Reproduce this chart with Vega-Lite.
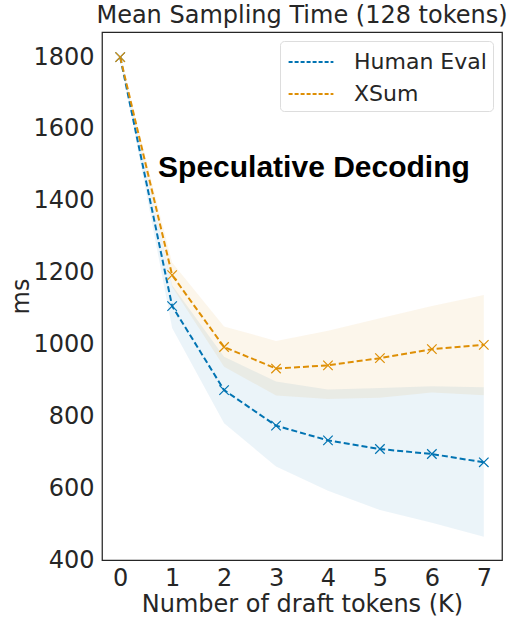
{
  "$schema": "https://vega.github.io/schema/vega-lite/v6.json",
  "autosize": "none",
  "width": 400,
  "height": 528,
  "padding": {"left": 102, "top": 32, "right": 24, "bottom": 64},
  "background": "white",
  "title": {
    "text": "Mean Sampling Time (128 tokens)",
    "font": "DejaVu Sans",
    "fontSize": 24,
    "fontWeight": "normal",
    "color": "#262626",
    "offset": 4
  },
  "config": {
    "view": {"stroke": "#262626", "strokeWidth": 1.25},
    "axis": {
      "grid": false,
      "ticks": false,
      "domain": false,
      "labelFont": "DejaVu Sans",
      "labelFontSize": 24,
      "labelColor": "#262626",
      "titleFont": "DejaVu Sans",
      "titleFontSize": 24,
      "titleFontWeight": "normal",
      "titleColor": "#262626"
    }
  },
  "datasets": {
    "series": [
      {"k": 0, "series": "Human Eval", "mean": 1800, "lo": 1800, "hi": 1800},
      {"k": 1, "series": "Human Eval", "mean": 1107, "lo": 1046, "hi": 1165},
      {"k": 2, "series": "Human Eval", "mean": 873, "lo": 781, "hi": 966},
      {"k": 3, "series": "Human Eval", "mean": 774, "lo": 660, "hi": 897},
      {"k": 4, "series": "Human Eval", "mean": 733, "lo": 593, "hi": 875},
      {"k": 5, "series": "Human Eval", "mean": 709, "lo": 539, "hi": 879},
      {"k": 6, "series": "Human Eval", "mean": 695, "lo": 504, "hi": 884},
      {"k": 7, "series": "Human Eval", "mean": 672, "lo": 465, "hi": 881},
      {"k": 0, "series": "XSum", "mean": 1800, "lo": 1800, "hi": 1800},
      {"k": 1, "series": "XSum", "mean": 1193, "lo": 1160, "hi": 1228},
      {"k": 2, "series": "XSum", "mean": 993, "lo": 938, "hi": 1050},
      {"k": 3, "series": "XSum", "mean": 933, "lo": 858, "hi": 1010},
      {"k": 4, "series": "XSum", "mean": 942, "lo": 848, "hi": 1038},
      {"k": 5, "series": "XSum", "mean": 962, "lo": 852, "hi": 1073},
      {"k": 6, "series": "XSum", "mean": 987, "lo": 866, "hi": 1107},
      {"k": 7, "series": "XSum", "mean": 999, "lo": 859, "hi": 1138}
    ],
    "note": [{"k": 3.73, "y": 1491, "label": "Speculative Decoding"}]
  },
  "layer": [
    {
      "data": {"name": "series"},
      "mark": {"type": "area", "opacity": 0.08},
      "encoding": {
        "x": {"field": "k", "type": "quantitative"},
        "y": {"field": "lo", "type": "quantitative"},
        "y2": {"field": "hi"},
        "color": {"field": "series", "type": "nominal"}
      }
    },
    {
      "data": {"name": "series"},
      "mark": {"type": "line", "strokeDash": [6, 3], "strokeWidth": 2},
      "encoding": {
        "x": {
          "field": "k",
          "type": "quantitative",
          "scale": {"domain": [-0.35, 7.35], "nice": false, "zero": false},
          "axis": {"values": [0, 1, 2, 3, 4, 5, 6, 7], "format": "d", "labelPadding": 6, "titlePadding": 2},
          "title": "Number of draft tokens (K)"
        },
        "y": {
          "field": "mean",
          "type": "quantitative",
          "scale": {"domain": [400, 1870], "nice": false, "zero": false},
          "axis": {"values": [400, 600, 800, 1000, 1200, 1400, 1600, 1800], "format": "d", "labelPadding": 8, "titlePadding": -1},
          "title": "ms"
        },
        "color": {
          "field": "series",
          "type": "nominal",
          "scale": {"domain": ["Human Eval", "XSum"], "range": ["#0173b2", "#de8f05"]},
          "legend": {
            "title": null,
            "orient": "top-right",
            "offset": 9,
            "symbolType": "M-1.6,0L1.6,0",
            "symbolDash": [4, 2],
            "symbolStrokeWidth": 2,
            "symbolSize": 784,
            "symbolOffset": 10,
            "labelFont": "DejaVu Sans",
            "labelFontSize": 22,
            "labelColor": "#262626",
            "rowPadding": 6,
            "padding": 6,
            "fillColor": "white",
            "strokeColor": "#dddddd",
            "cornerRadius": 4,
            "labelOffset": 28,
            "encode": {
              "symbols": {
                "update": {
                  "opacity": {"value": 1},
                  "strokeOpacity": {"value": 1},
                  "fillOpacity": {"value": 0}
                }
              }
            }
          }
        }
      }
    },
    {
      "data": {"name": "series"},
      "mark": {"type": "point", "shape": "M-1,-1L1,1M1,-1L-1,1", "filled": false, "size": 90, "strokeWidth": 1.2, "opacity": 1},
      "encoding": {
        "x": {"field": "k", "type": "quantitative"},
        "y": {"field": "mean", "type": "quantitative"},
        "color": {"field": "series", "type": "nominal"}
      }
    },
    {
      "data": {"name": "note"},
      "mark": {"type": "text", "font": "Liberation Sans", "fontSize": 30, "fontWeight": "bold", "color": "black", "align": "center", "baseline": "middle"},
      "encoding": {
        "x": {"field": "k", "type": "quantitative"},
        "y": {"field": "y", "type": "quantitative"},
        "text": {"field": "label"}
      }
    }
  ]
}
